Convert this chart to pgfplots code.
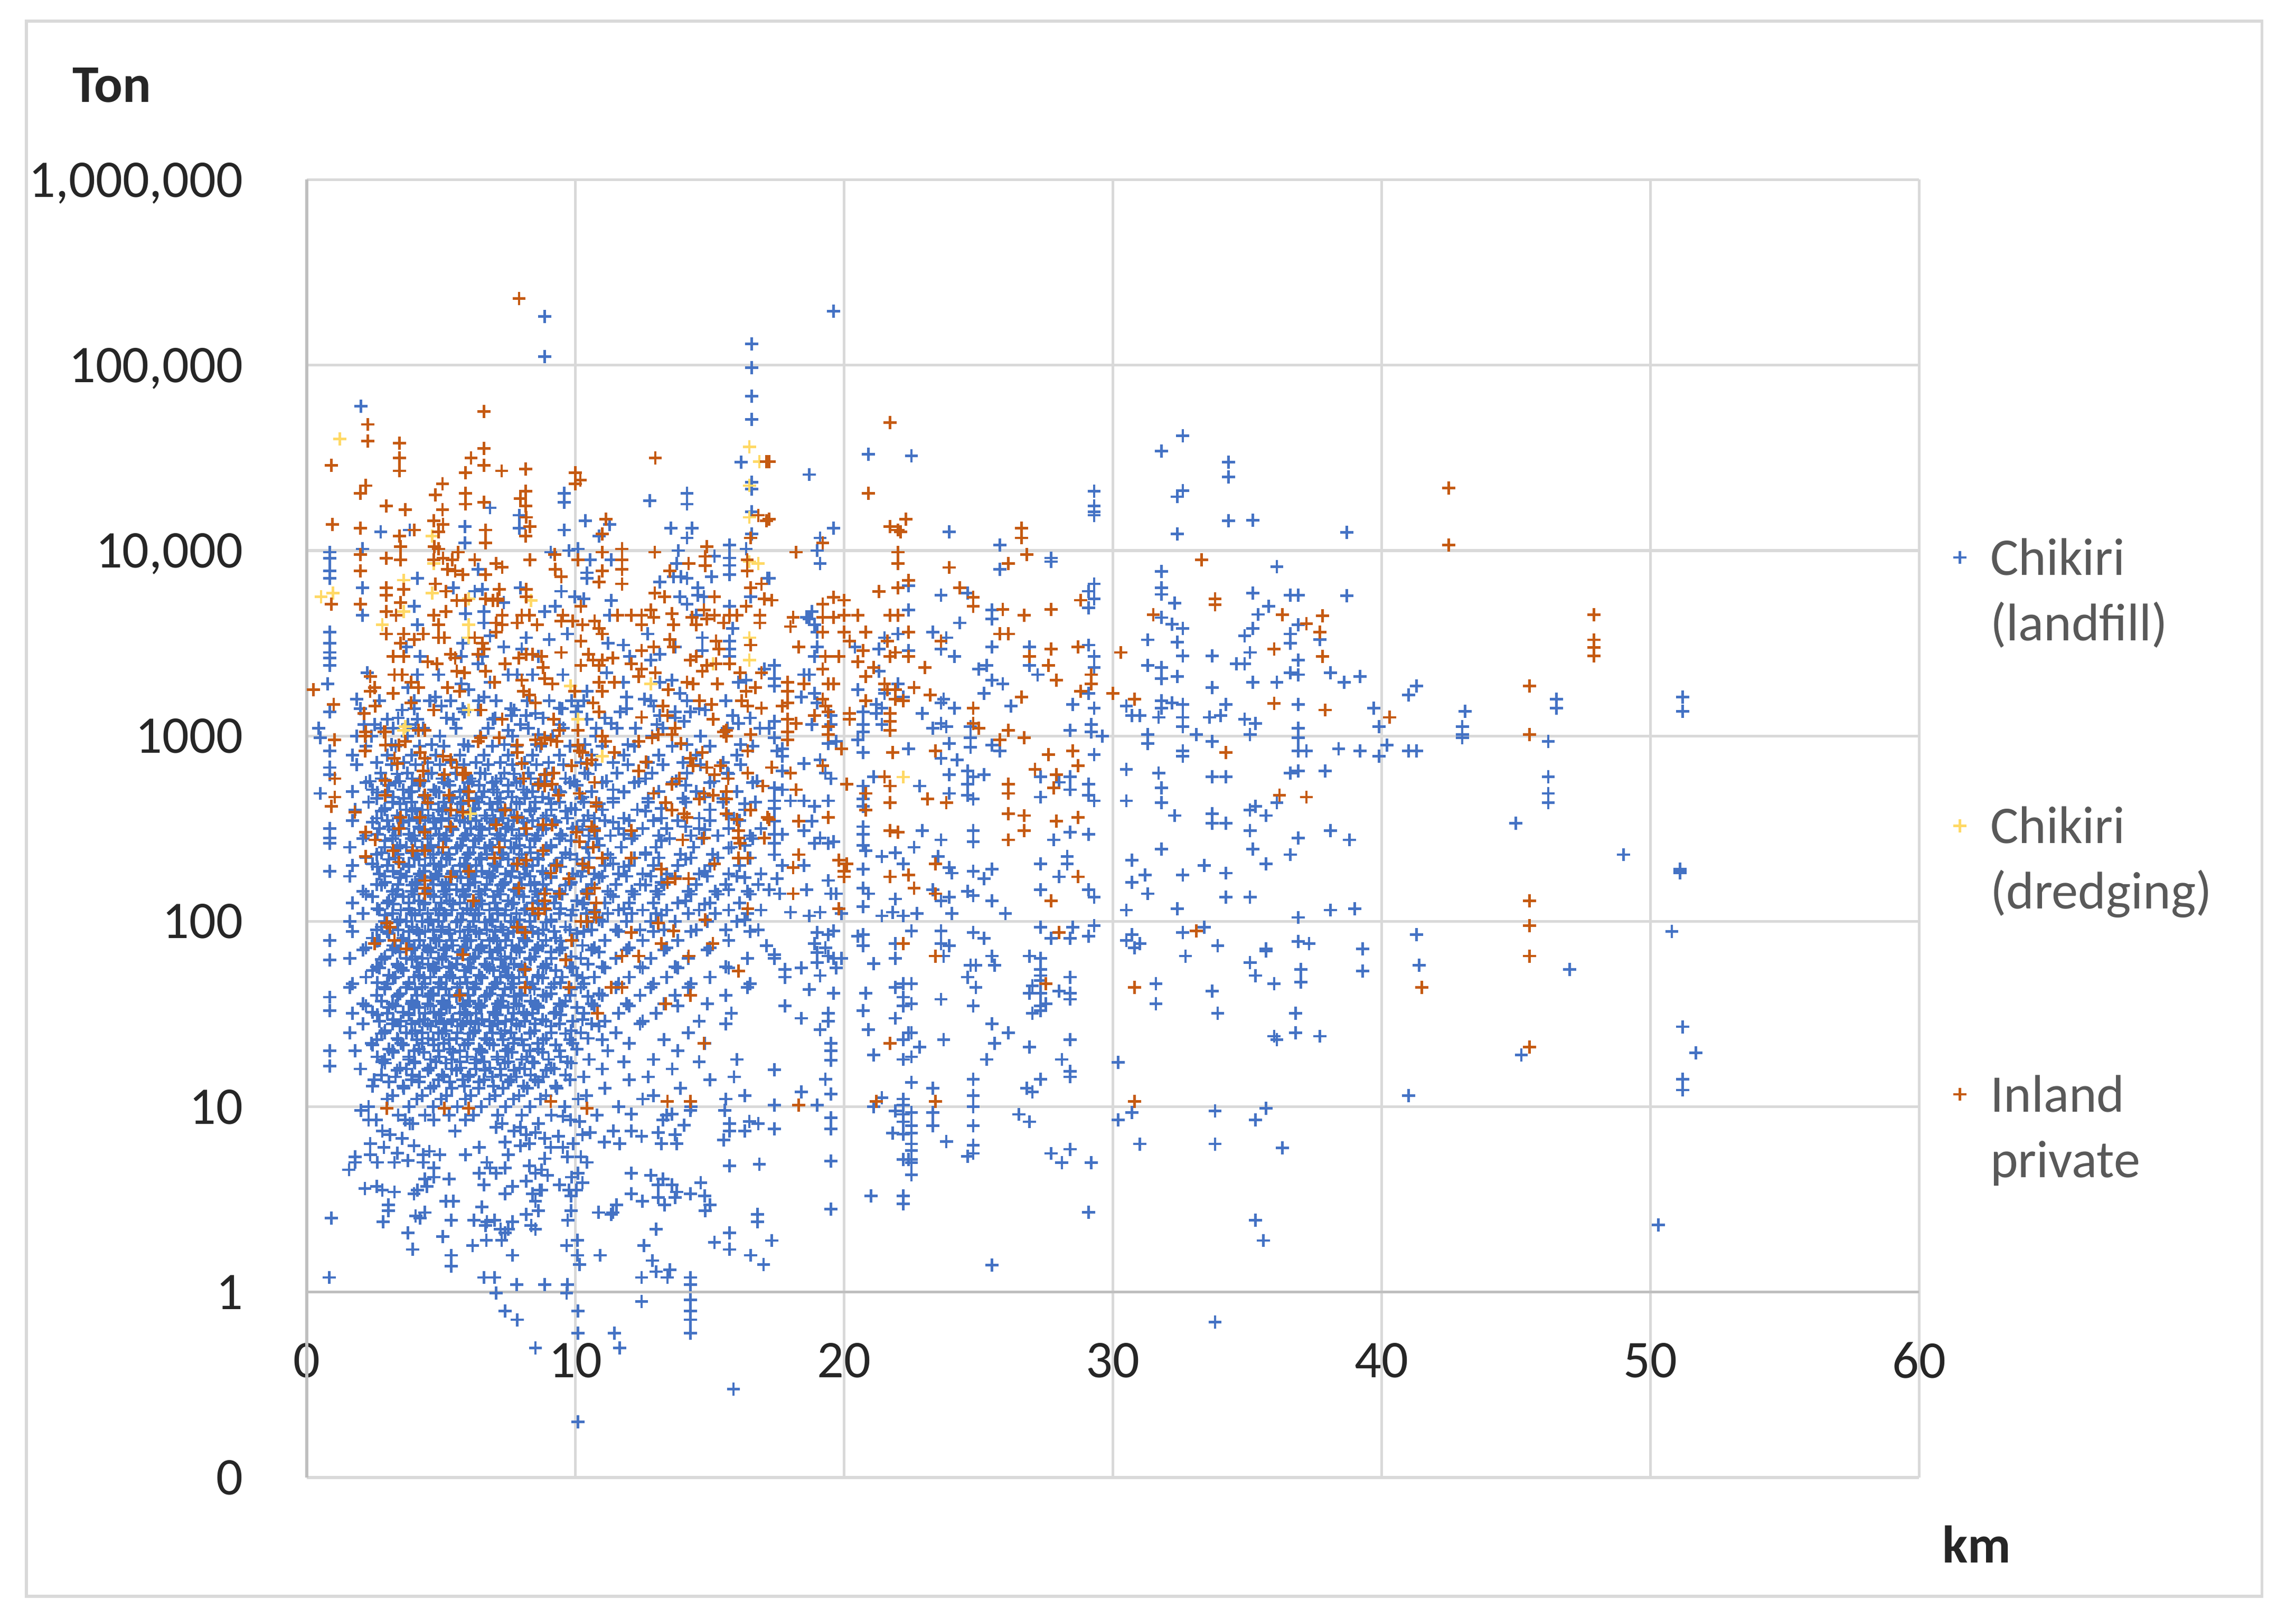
\documentclass[border=0pt]{standalone}
\usepackage{fontspec}
\setmainfont{Carlito}
\usepackage{pgfplots}
\pgfplotsset{compat=1.18}
\definecolor{blueS}{HTML}{4472C4}
\definecolor{orangeS}{HTML}{C55A11}
\definecolor{yellowS}{HTML}{FFD966}
\definecolor{gridc}{HTML}{D9D9D9}
\definecolor{axisc}{HTML}{BFBFBF}
\definecolor{tickc}{HTML}{262626}
\definecolor{legc}{HTML}{595959}
\begin{document}
\begin{tikzpicture}
\useasboundingbox (0,0) rectangle (16cm,11.2825cm);
\draw[gridc, line width=0.55pt] (0.184cm,0.155cm) rectangle (15.761cm,11.135cm);
\node[anchor=base west, inner sep=0pt, text=tickc, font=\bfseries\fontsize{10.5}{12.6}\selectfont] at (0.50cm,10.569cm) {Ton};
\node[anchor=base west, inner sep=0pt, text=tickc, font=\bfseries\fontsize{10.5}{12.6}\selectfont] at (13.53cm,0.389cm) {km};
\begin{axis}[
  at={(2.138cm,0.9825cm)}, anchor=south west,
  scale only axis, width=11.235cm, height=9.047cm,
  xmin=0, xmax=60, ymin=0.1, ymax=1000000, ymode=log,
  xtick={0,10,20,30,40,50,60}, xticklabels={0,10,20,30,40,50,60},
  ytick={0.1,1,10,100,1000,10000,100000,1000000},
  yticklabels={0,1,10,100,1000,{10,000},{100,000},{1,000,000}},
  grid=major, major grid style={draw=gridc, line width=0.55pt},
  axis line style={draw=none},
  major tick length=0pt, minor tick length=0pt, minor y tick num=0,
  tick label style={font=\fontsize{10.5}{12.6}\selectfont, text=tickc, text depth=0pt},
  yticklabel style={anchor=east, xshift=-0.32cm},
  xticklabel style={anchor=center, yshift=0.8188cm},
  extra x ticks={0}, extra x tick labels={},
  extra y ticks={1}, extra y tick labels={},
  extra tick style={grid=major, major grid style={draw=axisc, line width=0.55pt}},
  legend style={draw=none, fill=none, inner sep=0pt, outer sep=0pt,
    at={(axis description cs:1.0213,0.4905)}, anchor=west,
    font=\fontsize{10.5}{13}\selectfont, text=legc,
    row sep=36pt, column sep=0.166cm,
    cells={anchor=west}, nodes={inner sep=0pt}},
  legend image code/.code={\draw[#1] plot coordinates {(0pt,3pt)}; \path (0pt,-8.4pt) (0pt,8.4pt);},
]
% ---------------- Chikiri (landfill) ----------------
\addplot[blueS, only marks, mark=+, mark size=1.3pt, mark options={line width=0.5pt}] coordinates {
(8.85,183000)(8.85,111000)(16.55,130000)(16.55,97000)(16.55,68000)(16.55,51000)(16.16,30000)(2.02,60000)(19.6,195000)(6.82,17000)(9.58,20400)(9.58,18200)(7.91,15500)(7.91,13200)(12.76,18600)(14.15,20400)(14.15,17800)(16.55,23400)(16.55,21400)(16.55,16200)(16.55,12300)(10.37,14500)(11.27,13800)(10.88,12000)(9.58,12900)(13.55,13200)(14.34,13200)(14.15,11700)(5.88,13500)(5.88,11000)(3.83,12900)(2.75,12600)
(0.86,9800)(0.86,9100)(0.86,7760)(0.86,7080)(0.86,3630)(0.86,3160)(0.86,2820)(0.86,2630)(0.86,2400)(0.78,1910)(0.86,1350)(2.08,10200)(2.08,6310)(2.08,4470)(4.11,7080)(4.0,5010)(4.11,3980)(3.71,3020)(4.22,2690)(4.11,2140)(2.25,2190)(1.85,1580)(2.13,1150)(4.90,2140)(4.56,1550)(5.46,6310)(5.91,4570)(6.25,6030)(6.53,6170)(6.37,7940)(6.59,4680)(6.59,4070)(6.82,3470)(7.33,5250)(7.33,3020)(7.95,6310)(8.17,3390)(8.0,2950)(9.02,3310)(8.85,4680)(9.25,5010)(9.47,6030)(9.75,10000)(10.09,10200)(9.08,9800)(10.54,8900)(10.43,7590)(10.43,7080)(9.98,5620)(10.31,5500)(11.33,5370)(11.27,4470)(11.21,3160)(11.78,3090)(11.33,8900)(13.14,6760)(13.65,7240)(13.82,10000)(13.76,8510)(14.15,7080)(14.55,6310)(14.55,5750)(14.78,5620)(15.06,7240)(15.17,9330)(15.73,10700)(15.73,9120)(15.73,8320)(15.73,7410)(16.35,10200)(16.52,5620)(17.14,7080)(15.73,5010)(15.85,3800)(15.73,3240)(15.73,2950)(15.73,2690)(17.03,2290)(13.88,5620)(14.15,5130)(13.93,7240)(14.49,4470)(13.70,3020)(13.14,2750)(12.80,2570)(12.69,3550)(14.72,3390)(14.72,2880)(13.14,1950)(13.59,2000)(13.88,1700)(14.15,1550)(14.27,1350)(14.04,1200)(12.01,2690)(11.78,1950)(11.90,1620)(11.67,1350)(12.57,1580)(12.91,1450)(13.03,1150)(12.24,1100)(9.53,2140)(9.70,3550)(9.86,1550)(10.09,1450)(10.03,1350)(9.41,1410)(10.43,1740)(11.16,2190)(9.02,1550)(8.40,2140)(8.62,2690)(7.49,2140)(7.83,2140)(7.61,1290)(7.72,1380)(8.17,1290)(8.51,1320)(6.82,1950)(7.04,1550)(6.59,1620)(6.37,2450)(6.53,2690)(5.80,3160)(5.75,2690)(5.75,1910)(6.03,1780)(5.86,1350)(6.37,1380)(5.35,1550)(5.46,1230)(4.79,1620)(5.01,1450)(3.77,1820)(4.0,1550)(4.11,1230)(4.33,1100)(3.54,1380)(3.77,1150)(3.0,1230)(3.21,1100)(2.53,1150)(2.41,1000)(6.93,1230)(7.49,1070)(7.95,1150)(8.62,1020)(9.41,1150)(10.43,1230)(10.77,1100)(11.33,1170)(13.14,1290)(13.70,1350)(14.83,1380)(15.85,1290)(16.07,1170)(16.86,1100)(16.07,1950)(16.35,2000)
(20.9,33100)(22.5,32400)(18.7,25700)(29.3,20900)(29.3,17400)(29.3,16200)(29.3,15500)(19.6,13200)(19.1,11700)(19.0,10000)(19.1,8500)(23.9,12600)(25.8,10700)(25.8,7940)(27.7,9120)(27.7,8710)(29.3,6610)(29.1,6030)(29.3,5500)(29.1,4900)(22.4,6460)(23.6,5750)(24.6,5890)(25.5,4790)(25.5,4270)(24.3,4070)(22.4,4790)(17.2,7080)(18.8,4680)(18.9,3980)(19.0,3630)(18.6,4370)(18.7,4270)(23.3,3630)(23.8,3390)(22.0,3550)(21.5,3390)(21.3,2950)(20.4,3020)(19.0,3020)(18.9,2690)(22.4,2880)(23.6,2950)(24.1,2690)(25.5,3020)(26.9,3020)(26.9,2400)(27.2,2140)(29.1,3090)(29.3,2690)(29.3,2340)(25.3,2400)(25.0,2290)(25.5,2000)(25.9,1910)(25.2,1700)(29.1,1700)(29.3,1410)(28.5,1480)(26.2,1450)(24.1,1410)(23.7,1580)(23.6,1510)(22.9,1320)(22.0,1910)(22.2,1620)(21.5,1780)(21.5,1700)(21.2,1480)(21.2,1320)(21.4,1410)(21.4,1150)(20.7,1350)(20.7,1150)(20.7,1050)(20.5,1780)(21.3,2240)(17.4,2400)(17.4,2040)(17.4,1860)(18.7,2140)(18.5,2140)(18.4,1620)(18.9,1700)(19.0,1510)(19.5,1290)(19.5,1150)(17.4,1200)(17.2,1100)(17.4,977)(18.8,1150)(19.4,912)(19.7,933)(20.5,955)(23.3,1100)(23.6,1170)(23.8,1120)(24.7,1120)(24.7,977)(24.7,871)(23.9,912)(28.4,1070)(29.2,1150)(29.2,1050)(29.6,1000)(25.5,891)(25.8,832)(22.4,851)(20.7,813)(29.3,794)(24.2,741)(23.6,759)(17.7,851)(17.7,776)(17.5,832)(19.1,741)(18.5,708)(17.7,646)(19.3,631)(19.5,589)(23.9,617)(24.6,646)(24.8,603)(25.2,617)(21.1,603)(27.3,603)(28.4,603)(28.0,562)(29.1,550)(29.1,479)(24.6,550)(24.6,479)(24.8,457)(23.9,490)(22.8,537)(28.4,513)(29.3,447)(27.3,468)(20.7,537)(20.7,457)(20.7,417)(17.4,525)(17.7,513)(17.4,447)(17.4,407)(18.0,447)(18.5,447)(18.9,417)(19.4,447)(18.8,347)(18.5,309)(17.4,347)(17.4,295)(17.4,263)(17.4,229)(17.7,295)(19.1,282)(18.9,263)(19.4,263)(19.6,269)(20.7,324)(20.7,295)(20.7,257)(20.8,240)(22.9,309)(23.6,275)(22.6,251)(21.9,234)(21.4,224)(24.8,309)(24.8,269)(27.8,275)(28.4,302)(29.1,295)(28.3,224)(28.3,204)(27.3,204)(23.5,224)(22.2,204)(23.9,195)(24.0,182)(24.8,186)(25.5,191)(25.2,170)(28.0,174)(17.7,200)(18.5,200)(17.5,170)(17.2,148)(17.6,141)(18.6,148)(19.4,166)(19.5,141)(19.7,141)(20.7,191)(20.7,151)(20.9,141)(20.7,120)(21.9,132)(23.3,148)(23.6,129)(23.9,135)(24.6,145)(24.8,138)(25.5,129)(27.3,148)(29.1,148)(29.3,135)(18.0,112)(19.1,112)(18.7,107)(19.9,110)(21.4,107)(21.8,112)(22.2,107)(22.7,110)(24.0,110)(26.0,110)
(17.1,74)(17.4,66)(17.4,63)(17.8,55)(17.8,50)(17.8,35)(18.4,56)(18.7,43)(18.4,30)(19.1,26)(18.9,76)(19.0,87)(19.0,68)(19.0,60)(19.3,72)(19.4,65)(19.6,63)(19.9,63)(19.4,85)(19.6,89)(19.1,51)(19.7,56)(19.6,41)(19.4,32)(19.4,29)(19.5,22)(19.5,20)(19.5,17.8)(19.3,14.1)(19.5,11.7)(17.4,15.8)(18.4,12)(17.4,10.2)(19.0,10.2)(17.4,7.6)(19.5,8.7)(19.5,7.6)(19.5,5.1)(19.5,2.8)(17.3,1.9)(20.5,83)(20.7,85)(20.7,74)(21.1,59)(20.8,41)(20.7,33)(20.9,26)(21.1,19)(21.9,76)(21.9,63)(22.5,89)(22.2,46)(21.9,44)(22.2,39)(22.2,35)(22.5,46)(22.5,36)(21.9,30)(22.4,25)(22.5,25)(22.2,23)(22.8,21)(22.2,18)(22.5,18.6)(22.5,13.5)(21.4,11.2)(21.1,10)(22.2,11)(22.2,10.2)(21.9,9.5)(22.2,9.1)(22.2,8.3)(21.8,7.2)(22.2,7.1)(22.5,9.3)(22.5,7.9)(22.5,7.2)(22.5,6.3)(22.5,5.8)(22.5,5.2)(22.5,5.0)(22.2,5.2)(22.4,5.2)(22.5,4.3)(21.0,3.3)(22.2,3.3)(22.2,3.0)(23.6,89)(23.6,76)(23.9,74)(23.7,65)(23.6,38)(23.7,23)(23.3,12.6)(23.3,9.3)(23.3,7.9)(23.8,6.5)(24.8,87)(25.2,81)(24.7,58)(24.9,58)(24.6,50)(24.9,44)(24.8,35)(25.5,65)(25.6,58)(25.5,28)(25.6,22)(25.3,18)(26.1,25)(24.8,14.1)(24.8,11.5)(24.8,10)(24.8,7.9)(24.8,6.2)(24.8,5.6)(24.6,5.4)(25.5,1.4)(27.3,93)(27.7,81)(26.9,65)(27.3,63)(27.3,55)(27.3,51)(27.3,48)(27.0,45)(26.9,41)(27.3,41)(27.3,35)(27.3,33)(27.5,36)(27.0,32)(28.0,42)(28.4,50)(28.4,41)(28.4,38)(28.5,93)(28.4,81)(29.1,83)(29.3,95)(26.9,21)(27.3,14.1)(28.4,23)(28.1,18)(28.4,15.5)(28.4,14.5)(26.8,12.6)(27.0,12)(26.5,9.1)(26.9,8.3)(27.7,5.6)(28.1,5.0)(28.4,5.9)(29.2,5.0)(29.1,2.7)
(32.6,41500)(31.8,34400)(34.3,30000)(34.3,25000)(32.6,21000)(32.4,19500)(34.3,14500)(35.2,14600)(32.4,12300)(38.7,12500)(31.8,7700)(36.1,8200)(31.8,6300)(31.8,5800)(32.3,5200)(35.2,5900)(36.6,5750)(36.9,5750)(38.7,5700)(31.8,4350)(32.2,4000)(32.6,3800)(31.3,3300)(32.4,3200)(32.6,2700)(33.7,2700)(35.2,3800)(34.9,3470)(35.4,4520)(35.8,5000)(36.6,3550)(36.6,3160)(36.9,3980)(37.7,3310)(35.1,2820)(34.6,2450)(34.9,2450)(36.9,2570)(31.3,2400)(31.8,2340)(31.8,2040)(32.4,2090)(33.7,1820)(35.2,1950)(36.1,1950)(36.6,2190)(36.9,2140)(38.1,2190)(38.6,1950)(39.2,2090)(41.0,1660)(41.3,1860)(46.5,1580)(46.5,1410)(51.2,1620)(51.2,1360)(43.1,1360)(39.7,1410)(39.9,1120)(43.0,1120)(43.0,1020)(43.0,977)(46.2,933)(30.5,1450)(30.7,1290)(31.0,1290)(31.7,1260)(31.8,1550)(31.8,1410)(32.2,1510)(32.6,1480)(32.6,1260)(32.6,1120)(33.1,1020)(33.6,1260)(34.0,1290)(34.2,1480)(34.9,1230)(35.3,1170)(35.1,1020)(36.9,1480)(36.9,1100)(36.9,977)(31.3,1020)(31.3,912)(33.7,933)(32.6,832)(32.6,776)(36.9,832)(37.2,832)(38.4,851)(39.2,832)(39.9,776)(40.2,891)(41.0,832)(41.3,832)(30.5,661)(31.7,631)(31.8,525)(33.7,603)(34.2,603)(36.6,631)(36.9,646)(37.9,646)(46.2,603)(46.2,490)(46.2,437)(30.5,447)(31.8,437)(32.3,372)(33.7,380)(33.7,339)(34.2,339)(35.1,398)(35.3,417)(35.7,372)(36.1,437)(35.1,309)(38.1,309)(38.8,275)(36.9,282)(45.0,339)(49.0,229)(51.1,191)(51.1,186)(51.1,182)(31.8,245)(35.2,245)(36.6,229)(35.7,204)(33.4,200)(30.7,214)(31.2,178)(32.6,178)(34.2,182)(30.7,162)(31.3,141)(30.5,115)(32.4,117)(34.2,135)(35.1,135)(38.1,115)(39.0,117)(36.9,105)(32.6,87)(33.4,93)(41.3,85)(50.8,88)(30.5,79)(30.7,85)(31.0,76)(30.8,72)(33.9,74)(36.9,78)(37.3,76)(39.3,71)(35.7,71)
(32.7,65)(35.1,60)(35.3,51)(35.7,69)(36.0,46)(37.0,55)(37.0,47)(39.3,54)(41.4,58)(47.0,55)(31.6,46)(31.6,36)(33.7,42)(33.9,32)(36.8,32)(36.8,25)(36.0,24)(36.1,23)(37.7,24)(30.2,17.4)(51.2,27)(51.7,19.5)(51.2,14.1)(51.2,12.3)(45.2,19)(41.0,11.5)(30.2,8.5)(30.7,9.3)(33.8,9.5)(35.3,8.5)(35.7,9.8)(31.0,6.3)(33.8,6.3)(36.3,6.0)(35.3,2.45)(35.6,1.9)(50.3,2.3)(33.8,0.69)
(0.91,2.51)(0.84,1.20)(2.16,3.63)(2.61,3.72)(2.81,3.55)(3.26,3.47)(3.04,2.95)(3.04,2.75)(2.84,2.40)(3.77,2.09)(3.94,1.70)(3.99,3.39)(4.11,3.55)(4.05,2.57)(4.22,2.51)(4.39,2.69)(4.47,3.72)(5.06,2.0)(5.18,3.09)(5.46,3.09)(5.37,2.45)(5.37,1.58)(5.37,1.38)(6.17,1.78)(6.22,2.45)(6.52,2.88)(6.59,3.80)(6.65,2.29)(6.70,2.40)(6.68,1.91)(6.99,2.45)(6.59,1.20)(6.99,1.20)(7.04,0.99)(7.21,2.19)(7.38,2.09)(7.49,2.19)(7.66,2.40)(7.25,1.91)(7.65,1.58)(7.81,1.10)(7.38,0.79)(7.83,0.71)(8.17,2.63)(8.35,2.29)(8.51,2.19)(8.62,2.75)(8.40,3.39)(8.51,3.09)(8.68,3.55)(8.73,3.55)(8.85,1.10)(8.51,0.50)(9.67,1.78)(9.71,2.45)(9.70,1.10)(9.67,0.99)(9.84,2.75)(9.84,3.31)(10.07,1.91)(10.07,1.58)(10.15,1.41)(10.09,0.79)(10.09,0.60)(10.09,0.20)(10.91,1.58)(10.85,2.69)(11.33,2.63)(11.39,2.69)(11.53,2.95)(11.45,0.60)(11.64,0.50)(12.07,3.39)(12.49,3.09)(12.54,1.78)(12.46,1.20)(12.46,0.89)(12.86,1.48)(13.0,2.19)(13.0,1.29)(13.42,1.20)(13.51,1.32)(13.08,3.24)(13.31,2.95)(13.70,3.24)(14.27,3.39)(14.27,1.20)(14.27,1.10)(14.27,0.91)(14.27,0.79)(14.27,0.71)(14.27,0.60)(14.81,3.31)(14.83,2.75)(15.0,2.95)(15.17,1.86)(15.73,2.09)(15.73,1.70)(15.88,0.30)(16.52,1.58)(16.78,2.63)(16.78,2.40)(17.0,1.41)(15.73,4.79)(16.84,4.90)
(2.02,9.55)(2.30,8.51)(2.58,8.51)(1.80,5.37)(1.57,4.57)(1.80,5.01)(2.36,6.31)(2.36,5.50)(2.62,5.01)(2.81,7.41)(2.87,6.03)(3.09,7.08)(3.26,5.01)(3.37,5.62)(3.54,6.76)(3.66,8.51)(3.83,8.13)(3.94,8.13)(3.77,5.13)(3.99,6.17)(4.33,5.50)(4.33,5.01)(4.56,5.75)(4.73,4.68)(4.39,4.07)(4.73,4.17)(5.29,4.07)(4.73,8.51)(4.95,5.50)(5.52,7.41)(5.91,5.50)(5.91,8.51)(6.42,6.03)(6.42,4.37)(6.59,3.80)(6.70,5.01)(6.82,4.68)(7.04,4.37)(7.38,4.68)(7.38,6.46)(7.49,5.50)(7.38,3.39)(7.66,3.72)(7.04,7.76)(7.27,8.13)(7.72,7.41)(7.95,7.76)(8.17,7.08)(7.95,6.17)(8.28,6.31)(8.51,7.24)(8.28,4.79)(8.51,4.37)(8.73,4.57)(8.96,4.27)(8.17,3.98)(8.62,8.13)(8.85,6.76)(8.85,5.25)(9.08,6.03)(9.36,6.92)(9.53,8.91)(9.53,6.03)(9.70,5.37)(9.92,6.31)(9.41,3.80)(9.75,3.55)(10.03,3.55)(9.86,4.17)(10.20,5.37)(10.26,3.89)(10.09,4.37)(10.43,5.01)(10.26,7.08)(9.81,8.51)(10.15,8.32)(10.54,7.24)(11.07,6.46)(11.41,7.41)(11.65,6.31)(12.07,9.12)(12.07,7.41)(12.46,6.92)(12.07,4.37)(12.80,4.27)(13.25,4.07)(13.08,3.80)(13.59,3.80)(13.76,3.47)(13.08,7.24)(13.19,6.31)(13.25,8.51)(13.59,9.12)(13.70,7.08)(13.76,6.31)(14.04,7.94)(14.27,9.55)(14.66,3.89)(15.51,6.61)(15.73,8.13)(15.73,7.41)(15.56,9.55)(16.30,7.41)(16.47,8.32)(16.80,8.13)
(0.86,832)(0.86,676)(0.86,617)(0.86,316)(0.86,282)(0.86,263)(0.86,186)(0.86,79)(0.86,62)(0.86,39)(0.86,33)(0.86,20)(0.86,16.6)(0.5,977)(0.5,490)(0.44,1100)
(2.3,10)(3.0,11)(3.4,9)(3.8,10)(4.1,11)(4.4,9)(4.7,10)(5.0,11)(5.3,9)(5.6,10)(5.9,11)(6.2,9)(6.5,10)(6.8,11)(7.1,9)(7.4,10)(7.7,11)(8.0,9)(8.3,10)(8.7,11)(9.1,9)(9.6,10)(10.1,11)(10.8,9)(11.6,10)(12.5,11)(13.4,9)(14.3,10)(15.6,11)
(2.5,14)(3.2,11.5)(3.6,12.6)(3.9,14)(4.3,11.5)(4.6,12.6)(4.9,14)(5.2,11.5)(5.4,12.6)(5.8,14)(6.1,11.5)(6.4,12.6)(6.6,14)(7.0,11.5)(7.3,12.6)(7.6,14)(7.9,11.5)(8.2,12.6)(8.5,14)(8.9,11.5)(9.3,12.6)(9.8,14)(10.4,11.5)(11.1,12.6)(12.0,14)(12.9,11.5)(13.9,12.6)(15.0,14)(16.3,11.5)
(2.0,16)(2.8,17.5)(3.3,14.5)(3.7,16)(4.0,17.5)(4.2,14.5)(4.5,16)(4.8,17.5)(5.1,14.5)(5.4,16)(5.7,17.5)(6.0,14.5)(6.3,16)(6.6,17.5)(6.9,14.5)(7.2,16)(7.5,17.5)(7.8,14.5)(8.1,16)(8.4,17.5)(8.8,14.5)(9.2,16)(9.7,17.5)(10.3,14.5)(11.0,16)(11.8,17.5)(12.7,14.5)(13.6,16)(14.6,17.5)(15.9,14.5)
(1.8,20)(2.4,22)(2.9,18)(3.2,20)(3.5,22)(3.8,18)(4.0,20)(4.3,22)(4.6,18)(4.9,20)(5.1,22)(5.4,18)(5.7,20)(6.0,22)(6.3,18)(6.5,20)(6.8,22)(7.1,18)(7.4,20)(7.7,22)(8.0,18)(8.3,20)(8.6,22)(9.0,18)(9.4,20)(9.9,22)(10.5,18)(11.2,20)(12.0,22)(12.9,18)(13.8,20)(14.8,22)(16.0,18)
(1.6,25)(2.1,28)(2.6,23)(2.9,25)(3.2,28)(3.4,23)(3.7,25)(3.9,28)(4.1,23)(4.3,25)(4.5,28)(4.7,23)(4.9,25)(5.1,28)(5.3,23)(5.6,25)(5.8,28)(6.0,23)(6.2,25)(6.4,28)(6.7,23)(6.9,25)(7.1,28)(7.3,23)(7.6,25)(7.8,28)(8.0,23)(8.3,25)(8.5,28)(8.8,23)(9.1,25)(9.4,28)(9.8,23)(10.2,25)(10.6,28)(11.0,23)(11.5,25)(12.4,28)(13.3,23)(14.2,25)(15.6,28)
(1.7,32)(2.2,35)(2.7,29)(3.0,32)(3.3,35)(3.5,29)(3.8,32)(4.0,35)(4.2,29)(4.4,32)(4.6,35)(4.8,29)(5.0,32)(5.2,35)(5.4,29)(5.7,32)(5.9,35)(6.1,29)(6.3,32)(6.5,35)(6.8,29)(7.0,32)(7.2,35)(7.4,29)(7.7,32)(7.9,35)(8.1,29)(8.4,32)(8.6,35)(8.9,29)(9.2,32)(9.5,35)(9.9,29)(10.3,32)(10.7,35)(11.1,29)(11.6,32)(12.0,35)(12.5,29)(13.0,32)(13.8,35)(14.6,29)(15.8,32)
(1.6,44)(2.1,36)(2.6,40)(2.9,44)(3.2,36)(3.4,40)(3.7,44)(3.9,36)(4.1,40)(4.3,44)(4.5,36)(4.7,40)(4.9,44)(5.1,36)(5.3,40)(5.6,44)(5.8,36)(6.0,40)(6.2,44)(6.4,36)(6.7,40)(6.9,44)(7.1,36)(7.3,40)(7.6,44)(7.8,36)(8.0,40)(8.3,44)(8.5,36)(8.8,40)(9.1,44)(9.4,36)(9.8,40)(10.2,44)(10.6,36)(11.0,40)(11.5,44)(11.9,36)(12.4,40)(12.8,44)(13.3,36)(13.7,40)(14.2,44)(14.9,36)(15.6,40)(16.4,44)
(1.7,46)(2.2,50)(2.7,56)(3.0,46)(3.3,50)(3.5,56)(3.8,46)(4.0,50)(4.2,56)(4.4,46)(4.6,50)(4.8,56)(5.0,46)(5.2,50)(5.4,56)(5.7,46)(5.9,50)(6.1,56)(6.3,46)(6.5,50)(6.8,56)(7.0,46)(7.2,50)(7.4,56)(7.7,46)(7.9,50)(8.1,56)(8.4,46)(8.6,50)(8.9,56)(9.2,46)(9.5,50)(9.9,56)(10.3,46)(10.7,50)(11.1,56)(11.6,46)(12.0,50)(12.5,56)(12.9,46)(13.4,50)(13.8,56)(14.3,46)(15.0,50)(15.7,56)(16.5,46)
(1.6,63)(2.1,70)(2.6,57)(2.9,63)(3.2,70)(3.4,57)(3.7,63)(3.9,70)(4.1,57)(4.3,63)(4.5,70)(4.7,57)(4.9,63)(5.1,70)(5.3,57)(5.6,63)(5.8,70)(6.0,57)(6.2,63)(6.4,70)(6.7,57)(6.9,63)(7.1,70)(7.3,57)(7.6,63)(7.8,70)(8.0,57)(8.3,63)(8.5,70)(8.8,57)(9.1,63)(9.4,70)(9.8,57)(10.2,63)(10.6,70)(11.0,57)(11.5,63)(11.9,70)(12.4,57)(12.8,63)(13.3,70)(13.7,57)(14.2,63)(14.9,70)(15.6,57)(16.4,63)
(1.7,88)(2.2,72)(2.7,79)(3.0,88)(3.3,72)(3.5,79)(3.8,88)(4.0,72)(4.2,79)(4.4,88)(4.6,72)(4.8,79)(5.0,88)(5.2,72)(5.4,79)(5.7,88)(5.9,72)(6.1,79)(6.3,88)(6.5,72)(6.8,79)(7.0,88)(7.2,72)(7.4,79)(7.7,88)(7.9,72)(8.1,79)(8.4,88)(8.6,72)(8.9,79)(9.2,88)(9.5,72)(9.9,79)(10.3,88)(10.7,72)(11.1,79)(11.6,88)(12.0,72)(12.5,79)(12.9,88)(13.4,72)(13.8,79)(14.3,88)(15.0,72)(15.7,79)(16.5,88)
(1.6,100)(2.1,110)(2.6,90)(2.9,100)(3.2,110)(3.4,90)(3.7,100)(3.9,110)(4.1,90)(4.3,100)(4.5,110)(4.7,90)(4.9,100)(5.1,110)(5.3,90)(5.6,100)(5.8,110)(6.0,90)(6.2,100)(6.4,110)(6.7,90)(6.9,100)(7.1,110)(7.3,90)(7.6,100)(7.8,110)(8.0,90)(8.3,100)(8.5,110)(8.8,90)(9.1,100)(9.4,110)(9.8,90)(10.2,100)(10.4,110)(10.6,90)(11.0,100)(11.2,110)(11.5,90)(11.9,100)(12.1,110)(12.4,90)(12.8,100)(13.0,110)(13.3,90)(13.7,100)(14.2,110)(14.5,90)(14.9,100)(15.2,110)(15.6,90)(16.0,100)(16.4,110)(16.8,90)
(1.7,126)(2.2,140)(2.7,115)(3.0,126)(3.3,140)(3.5,115)(3.8,126)(4.0,140)(4.2,115)(4.4,126)(4.6,140)(4.8,115)(5.0,126)(5.2,140)(5.4,115)(5.7,126)(5.9,140)(6.1,115)(6.3,126)(6.5,140)(6.8,115)(7.0,126)(7.2,140)(7.4,115)(7.7,126)(7.9,140)(8.1,115)(8.4,126)(8.6,140)(8.9,115)(9.2,126)(9.5,140)(9.9,115)(10.3,126)(10.5,140)(10.7,115)(11.1,126)(11.3,140)(11.6,115)(12.0,126)(12.2,140)(12.5,115)(12.9,126)(13.1,140)(13.4,115)(13.8,126)(14.3,140)(14.6,115)(15.0,126)(15.3,140)(15.7,115)(16.1,126)(16.5,140)(16.9,115)
(1.6,175)(2.1,145)(2.6,158)(2.9,175)(3.2,145)(3.4,158)(3.7,175)(3.9,145)(4.1,158)(4.3,175)(4.5,145)(4.7,158)(4.9,175)(5.1,145)(5.3,158)(5.6,175)(5.8,145)(6.0,158)(6.2,175)(6.4,145)(6.7,158)(6.9,175)(7.1,145)(7.3,158)(7.6,175)(7.8,145)(8.0,158)(8.3,175)(8.5,145)(8.8,158)(9.1,175)(9.4,145)(9.8,158)(10.2,175)(10.4,145)(10.6,158)(11.0,175)(11.2,145)(11.5,158)(11.9,175)(12.1,145)(12.4,158)(12.8,175)(13.0,145)(13.3,158)(13.7,175)(14.2,145)(14.5,158)(14.9,175)(15.2,145)(15.6,158)(16.0,175)(16.4,145)(16.8,158)
(1.7,200)(2.2,220)(2.7,180)(3.0,200)(3.3,220)(3.5,180)(3.8,200)(4.0,220)(4.2,180)(4.4,200)(4.6,220)(4.8,180)(5.0,200)(5.2,220)(5.4,180)(5.7,200)(5.9,220)(6.1,180)(6.3,200)(6.5,220)(6.8,180)(7.0,200)(7.2,220)(7.4,180)(7.7,200)(7.9,220)(8.1,180)(8.4,200)(8.6,220)(8.9,180)(9.2,200)(9.5,220)(9.9,180)(10.3,200)(10.5,220)(10.7,180)(11.1,200)(11.3,220)(11.6,180)(12.0,200)(12.2,220)(12.5,180)(12.9,200)(13.1,220)(13.4,180)(13.8,200)(14.3,220)(14.6,180)(15.0,200)(15.3,220)(15.7,180)(16.1,200)(16.5,220)(16.9,180)
(1.6,251)(2.1,280)(2.6,230)(2.9,251)(3.2,280)(3.4,230)(3.7,251)(3.9,280)(4.1,230)(4.3,251)(4.5,280)(4.7,230)(4.9,251)(5.1,280)(5.3,230)(5.6,251)(5.8,280)(6.0,230)(6.2,251)(6.4,280)(6.7,230)(6.9,251)(7.1,280)(7.3,230)(7.6,251)(7.8,280)(8.0,230)(8.3,251)(8.5,280)(8.8,230)(9.1,251)(9.4,280)(9.8,230)(10.4,251)(10.8,280)(11.2,230)(11.7,251)(12.1,280)(12.6,230)(13.0,251)(13.5,280)(13.9,230)(14.4,251)(14.7,280)(15.1,230)(15.8,251)(16.6,280)
(1.7,350)(2.2,290)(2.7,316)(3.0,350)(3.3,290)(3.5,316)(3.8,350)(4.0,290)(4.2,316)(4.4,350)(4.6,290)(4.8,316)(5.0,350)(5.2,290)(5.4,316)(5.7,350)(5.9,290)(6.1,316)(6.3,350)(6.5,290)(6.8,316)(7.0,350)(7.2,290)(7.4,316)(7.7,350)(7.9,290)(8.1,316)(8.4,350)(8.6,290)(8.9,316)(9.2,350)(9.5,290)(9.9,316)(10.3,350)(10.5,290)(10.7,316)(11.1,350)(11.3,290)(11.6,316)(12.0,350)(12.2,290)(12.5,316)(12.9,350)(13.1,290)(13.4,316)(13.8,350)(14.3,290)(14.6,316)(15.0,350)(15.3,290)(15.7,316)(16.1,350)(16.5,290)(16.9,316)
(1.8,400)(2.3,440)(2.6,360)(2.9,400)(3.2,440)(3.4,360)(3.7,400)(3.9,440)(4.1,360)(4.3,400)(4.5,440)(4.7,360)(4.9,400)(5.1,440)(5.3,360)(5.6,400)(5.8,440)(6.0,360)(6.2,400)(6.4,440)(6.7,360)(6.9,400)(7.1,440)(7.3,360)(7.6,400)(7.8,440)(8.0,360)(8.3,400)(8.5,440)(8.8,360)(9.1,400)(9.4,440)(9.7,360)(10.0,400)(10.3,440)(10.7,360)(11.0,400)(11.4,440)(11.8,360)(12.3,400)(12.7,440)(13.2,360)(13.6,400)(14.1,440)(14.6,360)(15.0,400)(15.5,440)(15.9,360)(16.3,400)(16.7,440)
(1.7,500)(2.2,560)(2.6,460)(3.0,500)(3.3,560)(3.6,460)(3.9,500)(4.2,560)(4.5,460)(4.8,500)(5.1,560)(5.4,460)(5.7,500)(6.0,560)(6.3,460)(6.6,500)(6.9,560)(7.2,460)(7.5,500)(7.8,560)(8.1,460)(8.4,500)(8.7,560)(9.0,460)(9.4,500)(9.8,560)(10.2,460)(10.6,500)(11.0,560)(11.4,460)(11.8,500)(12.2,560)(12.7,460)(13.1,500)(13.6,560)(14.0,460)(14.5,500)(15.0,560)(15.5,460)(16.0,500)(16.6,560)
(1.85,700)(2.35,570)(2.75,630)(3.15,700)(3.45,570)(3.75,630)(4.05,700)(4.35,570)(4.65,630)(4.95,700)(5.25,570)(5.55,630)(5.85,700)(6.15,570)(6.45,630)(6.75,700)(7.05,570)(7.35,630)(7.65,700)(7.95,570)(8.25,630)(8.55,700)(8.85,570)(9.15,630)(9.55,700)(9.95,570)(10.35,630)(10.75,700)(11.15,570)(11.55,630)(11.95,700)(12.35,570)(12.85,630)(13.25,700)(13.75,570)(14.15,630)(14.65,700)(15.15,570)(15.65,630)(16.15,700)(16.75,570)
(1.7,790)(2.2,880)(2.6,720)(3.0,790)(3.3,880)(3.6,720)(3.9,790)(4.2,880)(4.5,720)(4.8,790)(5.1,880)(5.4,720)(5.7,790)(6.0,880)(6.3,720)(6.6,790)(6.9,880)(7.2,720)(7.5,790)(7.8,880)(8.1,720)(8.4,790)(8.7,880)(9.0,720)(9.4,790)(9.8,880)(10.2,720)(10.6,790)(11.0,880)(11.4,720)(11.8,790)(12.2,880)(12.7,720)(13.1,790)(13.6,880)(14.0,720)(14.5,790)(15.0,880)(15.5,720)(16.0,790)(16.6,880)
(1.85,1000)(2.75,1100)(3.15,900)(3.75,1000)(4.05,1100)(4.65,900)(4.95,1000)(5.55,1100)(5.85,900)(6.45,1000)(6.75,1100)(7.35,900)(7.65,1000)(8.25,1100)(8.55,900)(9.15,1000)(9.55,1100)(10.35,900)(10.75,1000)(11.55,1100)(11.95,900)(12.85,1000)(13.25,1100)(14.15,900)(14.65,1000)(15.65,1100)(16.15,900)
(2.0,1400)(2.7,1550)(3.4,1250)(4.0,1400)(4.6,1550)(5.2,1250)(5.8,1400)(6.4,1550)(7.0,1250)(7.6,1400)(8.2,1550)(8.8,1250)(9.5,1400)(10.3,1550)(11.1,1250)(11.9,1400)(12.8,1550)(13.7,1250)(14.6,1400)(15.6,1550)(16.5,1250)
(2.45,12.9)(2.78,14.8)(3.05,13.6)(3.36,15.7)(3.58,12.9)(3.92,14.8)(4.18,13.6)(4.52,15.7)(4.73,12.9)(5.04,14.8)(5.31,13.6)(5.57,15.7)(5.86,12.9)(6.07,14.8)(6.41,13.6)(6.63,15.7)(6.94,12.9)(7.22,14.8)(7.49,13.6)(7.71,15.7)(8.06,12.9)(8.33,14.8)(8.62,13.6)(8.91,15.7)(9.27,12.9)(9.63,14.8)
(2.62,18.6)(2.91,17.2)(3.22,19.7)(3.47,16.2)(3.81,18.6)(4.03,17.2)(4.36,19.7)(4.61,16.2)(4.92,18.6)(5.18,17.2)(5.44,19.7)(5.73,16.2)(5.97,18.6)(6.26,17.2)(6.52,19.7)(6.81,16.2)(7.08,18.6)(7.37,17.2)(7.63,19.7)(7.92,16.2)(8.19,18.6)(8.47,17.2)(8.78,19.7)(9.09,16.2)(9.45,18.6)(9.84,17.2)
(2.45,21.6)(2.78,24.8)(3.05,20.4)(3.36,23.4)(3.58,21.6)(3.92,24.8)(4.18,20.4)(4.52,23.4)(4.73,21.6)(5.04,24.8)(5.31,20.4)(5.57,23.4)(5.86,21.6)(6.07,24.8)(6.41,20.4)(6.63,23.4)(6.94,21.6)(7.22,24.8)(7.49,20.4)(7.71,23.4)(8.06,21.6)(8.33,24.8)(8.62,20.4)(8.91,23.4)(9.27,21.6)(9.63,24.8)(10.05,20.4)(10.47,23.4)
(2.62,31.3)(2.91,25.7)(3.22,29.5)(3.47,27.2)(3.81,31.3)(4.03,25.7)(4.36,29.5)(4.61,27.2)(4.92,31.3)(5.18,25.7)(5.44,29.5)(5.73,27.2)(5.97,31.3)(6.26,25.7)(6.52,29.5)(6.81,27.2)(7.08,31.3)(7.37,25.7)(7.63,29.5)(7.92,27.2)(8.19,31.3)(8.47,25.7)(8.78,29.5)(9.09,27.2)(9.45,31.3)(9.84,25.7)(10.26,29.5)(10.88,27.2)
(2.45,32.4)(2.78,37.2)(3.05,34.3)(3.36,39.4)(3.58,32.4)(3.92,37.2)(4.18,34.3)(4.52,39.4)(4.73,32.4)(5.04,37.2)(5.31,34.3)(5.57,39.4)(5.86,32.4)(6.07,37.2)(6.41,34.3)(6.63,39.4)(6.94,32.4)(7.22,37.2)(7.49,34.3)(7.71,39.4)(8.06,32.4)(8.33,37.2)(8.62,34.3)(8.91,39.4)(9.27,32.4)(9.63,37.2)(10.05,34.3)(10.47,39.4)
(2.62,46.8)(2.91,43.2)(3.22,49.6)(3.47,40.7)(3.81,46.8)(4.03,43.2)(4.36,49.6)(4.61,40.7)(4.92,46.8)(5.18,43.2)(5.44,49.6)(5.73,40.7)(5.97,46.8)(6.26,43.2)(6.52,49.6)(6.81,40.7)(7.08,46.8)(7.37,43.2)(7.63,49.6)(7.92,40.7)(8.19,46.8)(8.47,43.2)(8.78,49.6)(9.09,40.7)(9.45,46.8)(9.84,43.2)(10.26,49.6)(10.88,40.7)
(2.45,54.3)(2.78,62.4)(3.05,51.3)(3.36,58.9)(3.58,54.3)(3.92,62.4)(4.18,51.3)(4.52,58.9)(4.73,54.3)(5.04,62.4)(5.31,51.3)(5.57,58.9)(5.86,54.3)(6.07,62.4)(6.41,51.3)(6.63,58.9)(6.94,54.3)(7.22,62.4)(7.49,51.3)(7.71,58.9)(8.06,54.3)(8.33,62.4)(8.62,51.3)(8.91,58.9)(9.27,54.3)(9.63,62.4)(10.05,51.3)(10.47,58.9)
(2.62,78.6)(2.91,64.6)(3.22,74.1)(3.47,68.4)(3.81,78.6)(4.03,64.6)(4.36,74.1)(4.61,68.4)(4.92,78.6)(5.18,64.6)(5.44,74.1)(5.73,68.4)(5.97,78.6)(6.26,64.6)(6.52,74.1)(6.81,68.4)(7.08,78.6)(7.37,64.6)(7.63,74.1)(7.92,68.4)(8.19,78.6)(8.47,64.6)(8.78,74.1)(9.09,68.4)(9.45,78.6)(9.84,64.6)(10.26,74.1)(10.88,68.4)
(2.45,81.3)(2.78,93.3)(3.05,86.1)(3.36,98.9)(3.58,81.3)(3.92,93.3)(4.18,86.1)(4.52,98.9)(4.73,81.3)(5.04,93.3)(5.31,86.1)(5.57,98.9)(5.86,81.3)(6.07,93.3)(6.41,86.1)(6.63,98.9)(6.94,81.3)(7.22,93.3)(7.49,86.1)(7.71,98.9)(8.06,81.3)(8.33,93.3)(8.62,86.1)(8.91,98.9)(9.27,81.3)(9.63,93.3)(10.05,86.1)(10.47,98.9)
(2.62,117)(2.91,108)(3.22,124)(3.47,102)(3.81,117)(4.03,108)(4.36,124)(4.61,102)(4.92,117)(5.18,108)(5.44,124)(5.73,102)(5.97,117)(6.26,108)(6.52,124)(6.81,102)(7.08,117)(7.37,108)(7.63,124)(7.92,102)(8.19,117)(8.47,108)(8.78,124)(9.09,102)(9.45,117)(9.84,108)(10.26,124)(10.88,102)(11.8,117)(13.2,108)(14.8,124)(16.3,102)
(2.45,136)(2.78,157)(3.05,129)(3.36,148)(3.58,136)(3.92,157)(4.18,129)(4.52,148)(4.73,136)(5.04,157)(5.31,129)(5.57,148)(5.86,136)(6.07,157)(6.41,129)(6.63,148)(6.94,136)(7.22,157)(7.49,129)(7.71,148)(8.06,136)(8.33,157)(8.62,129)(8.91,148)(9.27,136)(9.63,157)(10.05,129)(10.47,148)(11.4,136)(12.6,157)(14.1,129)(15.7,148)
(2.62,197)(2.91,162)(3.22,186)(3.47,172)(3.81,197)(4.03,162)(4.36,186)(4.61,172)(4.92,197)(5.18,162)(5.44,186)(5.73,172)(5.97,197)(6.26,162)(6.52,186)(6.81,172)(7.08,197)(7.37,162)(7.63,186)(7.92,172)(8.19,197)(8.47,162)(8.78,186)(9.09,172)(9.45,197)(9.84,162)(10.26,186)(10.88,172)(11.8,197)(13.2,162)(14.8,186)(16.3,172)
(2.45,204)(2.78,234)(3.05,216)(3.36,248)(3.58,204)(3.92,234)(4.18,216)(4.52,248)(4.73,204)(5.04,234)(5.31,216)(5.57,248)(5.86,204)(6.07,234)(6.41,216)(6.63,248)(6.94,204)(7.22,234)(7.49,216)(7.71,248)(8.06,204)(8.33,234)(8.62,216)(8.91,248)(9.27,204)(9.63,234)(10.05,216)(10.47,248)(11.4,204)(12.6,234)(14.1,216)(15.7,248)
(2.62,295)(2.91,272)(3.22,313)(3.47,257)(3.81,295)(4.03,272)(4.36,313)(4.61,257)(4.92,295)(5.18,272)(5.44,313)(5.73,257)(5.97,295)(6.26,272)(6.52,313)(6.81,257)(7.08,295)(7.37,272)(7.63,313)(7.92,257)(8.19,295)(8.47,272)(8.78,313)(9.09,257)(9.45,295)(9.84,272)(10.26,313)(10.88,257)(11.8,295)(13.2,272)(14.8,313)(16.3,257)
(2.45,343)(2.78,394)(3.05,324)(3.36,372)(3.58,343)(3.92,394)(4.18,324)(4.52,372)(4.73,343)(5.04,394)(5.31,324)(5.57,372)(5.86,343)(6.07,394)(6.41,324)(6.63,372)(6.94,343)(7.22,394)(7.49,324)(7.71,372)(8.06,343)(8.33,394)(8.62,324)(8.91,372)(9.27,343)(9.63,394)(10.05,324)(10.47,372)(11.4,343)(12.6,394)(14.1,324)(15.7,372)
(2.62,496)(2.91,407)(3.22,468)(3.47,432)(3.81,496)(4.03,407)(4.36,468)(4.61,432)(4.92,496)(5.18,407)(5.44,468)(5.73,432)(5.97,496)(6.26,407)(6.52,468)(6.81,432)(7.08,496)(7.37,407)(7.63,468)(7.92,432)(8.19,496)(8.47,407)(8.78,468)(9.09,432)(9.45,496)(9.84,407)(10.26,468)(10.88,432)(11.8,496)(13.2,407)(14.8,468)(16.3,432)
(2.45,513)(2.78,589)(3.05,543)(3.36,624)(3.58,513)(3.92,589)(4.18,543)(4.52,624)(4.73,513)(5.04,589)(5.31,543)(5.57,624)(5.86,513)(6.07,589)(6.41,543)(6.63,624)(6.94,513)(7.22,589)(7.49,543)(7.71,624)(8.06,513)(8.33,589)(8.62,543)(8.91,624)(9.27,513)(9.63,589)(10.05,543)(10.47,624)(11.4,513)(12.6,589)(14.1,543)(15.7,624)
};
\addlegendentry{\begin{tabular}{@{}l@{}}Chikiri\\(landfill)\end{tabular}}
% ---------------- Chikiri (dredging) ----------------
\addplot[yellowS, only marks, mark=+, mark size=1.3pt, mark options={line width=0.5pt}] coordinates {
(1.23,40000)(16.47,36300)(16.84,30200)(16.47,22400)(16.47,15100)(16.47,8710)(16.80,8510)(4.67,12000)(4.73,8510)(3.60,6920)(0.97,5890)(0.53,5620)(4.67,5890)(6.03,5500)(8.34,5370)(3.60,4680)(2.81,3980)(6.03,3980)(6.03,3390)(9.81,1860)(12.80,1910)(16.47,3390)(16.47,2570)(15.12,2450)(6.03,1380)(10.09,1230)(3.66,1120)(6.08,380)(10.99,776)(3.60,1070)(22.2,600)
};
\addlegendentry{\begin{tabular}{@{}l@{}}Chikiri\\(dredging)\end{tabular}}
% ---------------- Inland private ----------------
\addplot[orangeS, only marks, mark=+, mark size=1.3pt, mark options={line width=0.5pt}] coordinates {
(42.5,21700)(42.5,10700)(33.3,8900)(33.8,5500)(33.8,5100)(31.5,4500)(36.3,4500)(37.8,4450)(47.9,4500)(47.9,3300)(47.9,3000)(47.9,2700)(37.2,4030)(37.7,3630)(37.8,2690)(36.0,2950)(30.3,2820)(45.5,1860)(30.0,1700)(30.8,1580)(36.0,1500)(37.9,1380)(40.3,1260)(45.5,1020)(34.2,813)(36.2,479)(37.2,468)(45.5,129)(45.5,95)(33.1,89)(45.5,65)(30.8,44)(41.5,44)(45.5,21)(30.8,10.7)
(21.7,49000)(17.2,30200)(20.9,20400)(17.2,14800)(22.3,14800)(21.7,13500)(22.0,12900)(22.1,12600)(26.6,13200)(26.6,11700)(18.2,9800)(19.2,11000)(22.0,9800)(22.0,8500)(26.8,9500)(26.1,8500)(23.9,8100)(22.4,6900)(22.0,6300)(21.3,6000)(24.3,6300)(24.8,5600)(24.8,5000)(28.8,5400)(25.9,4800)(26.7,4470)(27.7,4800)(17.3,5400)(19.2,5130)(19.6,5600)(20.0,5400)(18.1,4370)(18.0,3890)(19.2,4370)(19.6,4370)(20.0,4470)(20.5,4470)(21.7,4470)(22.0,4470)(19.2,3630)(20.0,3630)(20.8,3630)(22.4,3630)(25.8,3550)(26.1,3550)(18.3,3020)(20.2,3240)(21.6,3240)(23.6,3240)(20.7,2880)(19.3,2690)(19.8,2690)(21.7,2690)(21.9,2820)(22.4,2690)(20.5,2510)(26.9,2690)(27.7,2950)(28.7,3020)(27.6,2400)(23.0,2340)(21.1,2340)(19.2,2290)(20.8,2090)(17.9,1950)(18.5,1910)(19.4,1910)(19.6,1910)(21.5,1910)(21.6,1780)(29.2,2140)(27.9,2000)(29.2,1910)(22.6,1820)(21.9,1780)(28.8,1740)(23.2,1660)(26.6,1620)(17.9,1740)(17.9,1510)(19.2,1580)(19.3,1450)(20.8,1550)(22.2,1550)(21.9,1580)(24.8,1410)(17.7,1450)(20.2,1320)(20.2,1230)(21.7,1320)(21.7,1200)(19.4,1350)(18.9,1290)(17.9,1230)(18.2,1170)(19.4,1120)(19.4,1020)(17.9,1050)(17.9,955)(24.8,1170)(25.0,1100)(26.1,1070)(25.8,955)(26.7,977)(21.7,1070)(19.9,851)(21.8,813)(23.4,832)(27.6,794)(28.5,832)(17.3,676)(18.0,631)(19.2,692)(28.7,692)(27.1,661)(27.9,617)(21.5,603)(20.1,550)(21.7,537)(20.8,490)(18.2,513)(26.1,550)(26.1,490)(27.8,525)(23.1,457)(23.8,437)(21.7,437)(20.8,398)(19.4,363)(18.3,347)(17.2,355)(26.1,380)(26.7,372)(26.7,309)(27.9,347)(28.7,363)(21.7,309)(22.0,302)(26.1,275)(18.3,229)(19.8,214)(20.1,204)(20.0,186)(20.0,174)(18.1,195)(23.4,204)(22.4,178)(21.7,174)(28.7,174)(22.6,151)(18.1,141)(23.4,141)(27.7,129)(19.8,117)
(22.2,76)(23.4,65)(28.0,87)(27.5,46)(21.7,22)(21.2,10.7)(23.4,10.7)(18.3,10.2)
(7.9,229000)(2.27,47900)(2.27,38900)(0.91,28800)(3.45,38000)(3.45,31600)(3.45,26900)(6.59,56200)(6.59,35500)(6.59,28800)(6.11,31600)(5.91,26300)(7.25,26900)(8.15,27500)(2.19,22400)(1.99,20400)(5.05,22900)(4.79,20000)(5.91,20400)(5.91,17800)(6.59,18200)(2.96,17400)(3.66,16600)(5.05,16600)(8.15,20900)(7.95,19100)(8.15,17400)(8.17,15100)(8.31,13500)(8.15,12000)(10.0,26300)(10.18,24000)(10.0,22900)(12.97,31600)(11.13,14800)(10.99,12300)(0.95,13800)(1.99,13200)(4.0,12900)(4.73,14500)(5.07,13800)(4.90,12600)(3.45,12000)(3.49,10500)(6.65,12900)(6.65,11000)(4.75,10500)(4.90,10200)(5.63,9800)(6.25,8900)(2.96,9100)(3.49,8900)(1.99,9500)(1.99,7760)(4.73,8900)(5.07,9100)(5.41,8900)(7.04,8500)(7.27,8130)(8.31,8900)(9.22,9500)(10.09,8900)(10.99,9800)(11.73,10200)(11.73,8900)(11.73,7940)(11.73,6610)(12.95,9800)(14.89,10500)(14.83,9300)(14.83,8300)(14.21,8500)(13.51,7760)(16.39,8900)(16.39,7760)(16.8,15500)(17.1,14500)(17.1,30200)(16.52,11700)(5.24,7940)(5.52,7760)(5.80,7410)(6.65,7410)(9.25,7940)(9.47,7240)(10.99,7760)(10.88,6760)(2.96,6310)(2.96,5750)(3.60,6170)(4.79,6610)(5.18,6030)(0.91,5130)(1.99,5130)(7.16,6170)(7.10,5500)(8.17,6170)(8.17,5620)(12.95,5890)(13.31,5620)(15.17,5620)(16.52,6310)(16.92,6610)(17.03,5500)(16.35,5010)(16.86,4470)(16.86,4070)(15.17,4470)(15.51,4070)(15.73,4470)(16.0,4470)(14.78,4790)(14.89,4270)(14.33,4370)(14.49,3980)(13.59,4570)(13.65,3980)(12.80,4790)(12.91,4370)(12.46,4470)(12.46,3980)(12.07,4470)(11.56,4470)(10.71,4170)(10.88,3800)(10.99,3550)(10.2,5010)(10.26,3980)(9.53,4470)(9.47,4170)(9.47,2820)(9.89,4170)(10.2,3240)(3.32,4470)(2.96,4680)(2.96,3550)(3.49,5250)(4.73,4470)(4.90,3980)(5.18,4680)(5.58,5370)(5.91,5370)(6.65,5500)(6.93,5370)(7.10,5370)(7.27,4470)(7.04,4070)(7.04,3630)(7.27,3980)(7.83,4070)(8.0,4470)(8.28,4470)(8.57,3980)(4.33,3550)(4.90,3390)(5.12,3390)(3.60,3550)(4.0,3310)(3.49,3160)(3.21,2690)(3.60,2690)(2.36,2090)(2.53,1820)(2.36,1740)(1.00,1480)(2.55,1450)(2.13,1320)(0.24,1780)(3.26,2140)(3.54,2140)(3.88,1950)(4.16,1820)(3.21,1700)(3.88,1510)(4.73,1380)(4.50,2510)(4.84,2450)(5.35,2750)(5.52,2630)(5.58,2240)(5.86,2190)(5.24,1820)(5.69,1740)(6.25,3390)(6.53,3160)(6.37,2750)(6.59,2950)(6.65,2240)(6.99,1950)(7.38,2450)(7.89,2630)(8.17,2750)(8.40,2750)(8.74,2690)(8.79,2340)(8.85,2040)(9.14,1910)(8.0,2000)(8.06,1740)(8.28,1660)(8.51,1510)(7.27,1230)(6.48,1380)(9.98,1740)(10.2,2400)(10.49,2750)(10.65,2570)(10.88,2400)(10.99,2570)(11.39,2630)(11.44,1950)(10.88,1950)(10.99,1740)(10.65,1510)(12.07,2450)(12.46,2880)(12.46,2290)(12.91,3020)(12.97,2190)(13.51,3310)(13.65,3020)(13.45,1780)(14.27,2570)(14.49,2690)(14.15,1950)(14.38,1910)(14.72,2240)(14.89,2400)(15.23,3240)(15.34,2950)(15.23,2450)(15.28,1910)(15.73,2450)(16.12,2190)(16.35,1740)(16.19,1550)(16.41,1450)(16.69,1820)(16.92,2190)(16.52,3090)(13.25,1450)(13.42,1290)(12.46,1260)(15.06,1480)(15.12,1230)(16.92,1410)(14.61,1550)(12.35,2090)(9.19,1230)(9.41,1070)(10.09,1070)(10.88,1350)(13.70,1100)(15.62,1070)(16.52,1020)(2.19,1050)(2.92,1050)
(1.03,955)(2.17,1000)(2.17,832)(2.87,1050)(2.93,891)(3.43,891)(3.66,933)(4.16,1070)(4.39,1070)(1.04,589)(1.04,468)(0.91,417)(1.79,389)(2.19,302)(2.55,275)(2.19,224)(2.92,575)(2.92,479)(3.26,759)(3.37,708)(3.49,363)(3.43,316)(3.43,209)(3.21,240)(3.94,240)(4.39,240)(4.22,813)(4.39,759)(4.33,646)(4.22,575)(4.39,479)(4.50,437)(4.22,363)(4.39,302)(4.39,166)(4.39,151)(4.39,141)(5.07,776)(5.35,741)(5.12,617)(5.29,479)(5.35,398)(5.35,324)(5.07,251)(5.35,174)(5.58,676)(5.80,617)(5.91,631)(6.03,501)(6.03,447)(5.80,389)(6.03,186)(6.20,129)(6.37,933)(6.48,977)(7.16,977)(7.38,398)(7.04,331)(7.16,251)(6.99,219)(7.83,891)(7.83,813)(8.0,708)(8.06,589)(7.83,363)(8.17,316)(7.83,204)(8.17,214)(7.89,151)(8.40,117)(8.62,110)(8.85,117)(8.51,955)(8.73,912)(8.85,977)(9.08,955)(9.30,933)(8.62,550)(8.85,537)(9.13,550)(8.85,617)(9.19,631)(9.36,479)(8.79,331)(9.13,331)(8.79,240)(9.08,182)(9.30,200)(9.75,170)(8.85,141)(8.85,129)(9.41,141)(10.09,891)(10.15,832)(10.26,813)(10.43,708)(10.60,741)(9.86,692)(10.15,490)(10.71,562)(10.77,437)(10.77,417)(10.03,302)(10.15,269)(10.60,324)(10.71,309)(10.66,251)(10.26,204)(10.49,195)(10.71,151)(10.43,141)(10.77,126)(10.71,112)(10.77,105)(10.20,100)(10.43,100)(9.86,79)(9.64,62)(8.12,55)(8.12,44)(9.75,44)(7.83,93)(8.12,87)(2.98,98)(3.09,93)(3.26,79)(2.53,76)(3.71,71)(5.80,66)(5.69,40)(10.82,32)(11.33,44)(11.73,44)(10.99,1000)(11.11,933)(11.44,813)(12.35,933)(12.63,724)(12.35,646)(12.85,977)(13.08,1020)(13.59,1020)(13.93,912)(12.91,490)(13.36,437)(13.59,398)(13.59,550)(13.87,589)(14.27,759)(14.38,692)(14.72,813)(14.89,676)(15.17,617)(15.40,692)(15.68,589)(15.51,1050)(15.62,1000)(16.41,832)(16.41,631)(16.52,1020)(16.97,537)(14.61,457)(14.78,490)(15.12,479)(15.62,501)(15.62,457)(14.04,380)(14.15,363)(15.62,380)(16.01,355)(16.52,398)(17.14,363)(12.07,309)(13.99,275)(14.78,282)(16.07,309)(16.07,282)(16.12,263)(17.03,282)(16.07,219)(16.41,219)(12.07,219)(10.99,219)(13.19,191)(15.17,204)(13.42,162)(13.70,170)(14.21,170)(16.41,117)(13.08,98)(14.83,102)(13.65,89)(12.07,87)(13.19,76)(15.11,76)(11.73,65)(12.35,65)(14.21,65)(16.07,54)(14.27,40)(13.36,36)(14.78,22)(9.08,10.7)(10.43,9.8)(13.42,10.7)(14.27,10.7)(2.98,9.8)(5.12,9.8)(6.03,9.8)
};
\addlegendentry{\begin{tabular}{@{}l@{}}Inland\\private\end{tabular}}
\end{axis}
\end{tikzpicture}
\end{document}
